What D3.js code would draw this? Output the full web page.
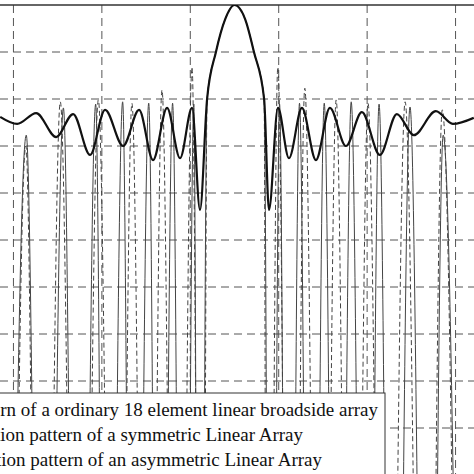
<!DOCTYPE html>
<html>
<head>
<meta charset="utf-8">
<style>
  body { margin: 0; background: #fff; }
  .grid line { stroke: #555; stroke-width: 1; stroke-dasharray: 8,5; }
  .legend text { font: 19px "Liberation Serif", serif; fill: #111; }
</style>
</head>
<body>
<script src="https://d3js.org/d3.v7.min.js"></script>
<script>
// angles in degrees, levels in dB
var xTicks = [0, 20, 40, 60, 80, 100, 120, 140, 160, 180];
var yTicks = [0, -10, -20, -30, -40, -50, -60, -70, -80, -90];
var mainLobe = [[82.2, -43.6], [83.8, -20], [85.8, -10], [87.9, -3], [90, 0], [92.4, -3], [94.4, -10], [96.7, -20], [97.8, -43.6]];

// ordinary 18 element broadside array (thick)
var ordinary = [[37.0, -23.8], [40.85, -25.3], [45.14, -23.0], [49.66, -28.1], [53.5, -23.2], [57.34, -31.9],
  [60.73, -22.3], [64.8, -30.0], [68.42, -22.3], [71.58, -33.0], [74.75, -21.9], [77.68, -32.6], [80.4, -21.9],
  [82.2, -43.6], [83.8, -20], [85.8, -10], [87.9, -3], [90, 0], [92.4, -3], [94.4, -10], [96.7, -20], [97.8, -43.6],
  [99.83, -21.9], [102.32, -32.6], [105.25, -21.9], [108.42, -33.0], [111.58, -21.9], [115.2, -30.0],
  [118.81, -22.8], [122.88, -31.9], [126.72, -23.2], [130.56, -27.7], [135.54, -22.6], [139.38, -25.3], [144.12, -24.0]];

// symmetric linear array (thin solid): nulls and lobe peaks
var symNullsL = [38.5, 46.9, 54.8, 61.1, 67.2, 73.1, 78.5, 82.1];
var symPeaksL = [[42.9, -27.7], [51.3, -21.9], [58.6, -21.1], [64.7, -20.6], [70.6, -20.9], [76.0, -20.9], [80.8, -21.1]];
var symNullsR = [98.2, 102.2, 107.4, 113.3, 119.8, 125.9, 133.8, 141.7];
var symPeaksR = [[100.2, -21.1], [104.7, -20.9], [110.3, -20.9], [116.4, -20.6], [122.7, -21.1], [129.7, -21.7], [137.2, -27.7]];

// asymmetric linear array (dashed)
var asymNullsL = [39.2, 46.4, 55.0, 63.4, 70.4, 77.1, 82.7];
var asymPeaksL = [[42.8, -30], [50.6, -20.6], [59.2, -20.2], [66.8, -20.9], [73.6, -18.1], [80.4, -13.2]];
var asymNullsR = [97.4, 102.9, 109.6, 116.6, 124.3, 133.3, 141.2];
var asymPeaksR = [[99.8, -13.2], [105.9, -17.7], [113.0, -20.2], [120.2, -20.9], [128.6, -20.6], [137.0, -22.3]];
var nullDepth = -260;

var W = 474, H = 474;
var x = d3.scaleLinear().domain([0, 180]).range([-163.4, 632.4]);
var y = d3.scaleLinear().domain([0, -100]).range([5, 475]);

var svg = d3.select("body").append("svg").attr("width", W).attr("height", H);
svg.append("defs").append("clipPath").attr("id", "clip")
  .append("rect").attr("x", 0).attr("y", 5).attr("width", W).attr("height", H);

var grid = svg.append("g").attr("class", "grid");
grid.selectAll("line.v").data(xTicks).join("line")
  .attr("x1", d => x(d)).attr("x2", d => x(d)).attr("y1", y(0)).attr("y2", H);
grid.selectAll("line.h").data(yTicks.slice(1)).join("line")
  .attr("x1", 0).attr("x2", W).attr("y1", d => y(d)).attr("y2", d => y(d));
svg.append("line").attr("x1", 0).attr("x2", W).attr("y1", y(0)).attr("y2", y(0))
  .attr("stroke", "#333").attr("stroke-width", 1.5);

function lobes(nulls, peaks) {
  var pts = [];
  nulls.forEach(function (n, i) {
    pts.push([n, nullDepth]);
    if (peaks[i]) pts.push(peaks[i]);
  });
  return pts;
}
var sym = lobes(symNullsL, symPeaksL).concat(mainLobe.slice(1, -1), lobes(symNullsR, symPeaksR));
var asym = lobes(asymNullsL, asymPeaksL).concat(mainLobe.slice(1, -1), lobes(asymNullsR, asymPeaksR));

var line = d3.line().x(d => x(d[0])).y(d => y(d[1])).curve(d3.curveMonotoneX);
var plot = svg.append("g").attr("clip-path", "url(#clip)").attr("fill", "none");
plot.append("path").attr("d", line(sym)).attr("stroke", "#444").attr("stroke-width", 1);
plot.append("path").attr("d", line(asym)).attr("stroke", "#444").attr("stroke-width", 1).attr("stroke-dasharray", "5,3");
plot.append("path").attr("d", line(ordinary)).attr("stroke", "#111").attr("stroke-width", 2.2);

var legend = svg.append("g").attr("class", "legend");
legend.append("rect").attr("x", -400).attr("y", 393).attr("width", 785).attr("height", 120)
  .attr("fill", "#fff").attr("stroke", "#333").attr("stroke-width", 1);
var labels = ["Radiation pattern of a ordinary 18 element linear broadside array",
  "Radiation pattern of a symmetric Linear Array",
  "Radiation pattern of an asymmetric Linear Array"];
var ends = [378, 303, 322];
legend.selectAll("text").data(labels).join("text")
  .attr("x", (d, i) => ends[i]).attr("y", (d, i) => 416 + i * 25)
  .attr("text-anchor", "end").text(d => d);
</script>
</body>
</html>
